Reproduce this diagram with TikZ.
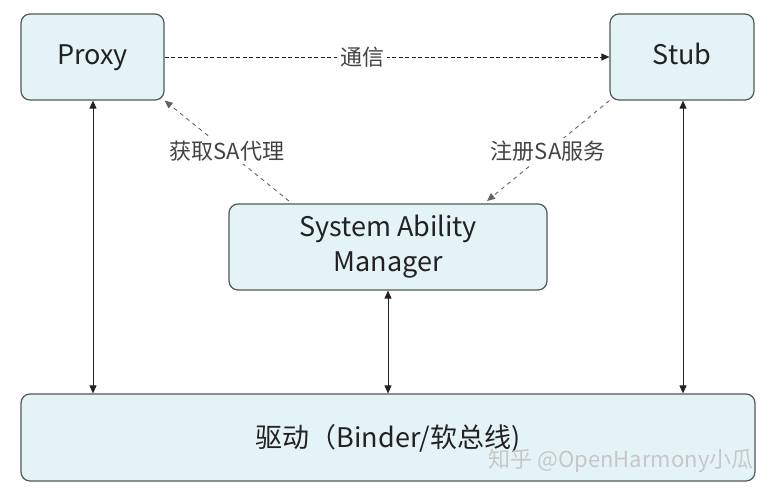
\documentclass[tikz,border=0pt]{standalone}
\usepackage{fontspec}
\setmainfont{Noto Sans CJK SC}
\usetikzlibrary{arrows.meta}
\definecolor{boxfill}{HTML}{E4F4F6}
\definecolor{boxdraw}{HTML}{505858}
\definecolor{txt}{HTML}{222222}
\tikzset{
  box/.style={draw=boxdraw, line width=1.2pt, fill=boxfill, rounded corners=9pt, text=txt, align=center, inner sep=0pt},
  boxtext/.style={font=\fontsize{27}{35}\selectfont},
  oneline/.style={text height=14pt, text depth=0pt},
  lbl/.style={font=\fontsize{22}{24}\selectfont, text=txt!85, inner sep=1pt},
  tip/.style={-{Triangle[length=8pt,width=7pt]}},
  dtip/.style={{Triangle[length=8pt,width=7pt]}-{Triangle[length=8pt,width=7pt]}},
  solidline/.style={draw=txt, line width=0.9pt},
  dashline/.style={draw=txt, line width=0.9pt, dash pattern=on 4pt off 2.5pt},
  diagline/.style={draw=txt!70, line width=0.9pt, dash pattern=on 4pt off 4pt}
}
\begin{document}
\begin{tikzpicture}[x=1pt,y=-1pt]
\useasboundingbox (0,0) rectangle (773,498);
\node[box, boxtext, oneline, minimum width=143pt, minimum height=86pt] (proxy) at (92.5,57) {Proxy};
\node[box, boxtext, oneline, minimum width=144pt, minimum height=86pt] (stub) at (682,57) {Stub};
\node[box, boxtext, minimum width=318pt, minimum height=86pt] (sam) at (388,247) {System Ability\\Manager};
\node[box, boxtext, text height=19pt, text depth=0pt, minimum width=734pt, minimum height=87pt] (drv) at (388,437.5) {驱动（Binder/软总线)};
% connectors
\coordinate (pb) at (93,100);
\coordinate (db1) at (93,394);
\coordinate (st) at (683,100);
\coordinate (db3) at (683,394);
\coordinate (smb) at (388,290);
\coordinate (db2) at (388,394);
\draw[solidline, dtip] (proxy.south -| pb) -- (drv.north -| db1);
\draw[solidline, dtip] (stub.south -| st) -- (drv.north -| db3);
\draw[solidline, dtip] (sam.south -| smb) -- (drv.north -| db2);
\draw[dashline, tip] (proxy.east) -- (stub.west)
  node[pos=0.444, fill=white, lbl, inner sep=3pt] (tx) {通信};
\coordinate (s1) at (289,201);
\coordinate (s2) at (487,201);
\draw[diagline, tip] (s1) -- (proxy.south east)
  node[pos=0.5, fill=white, lbl, inner sep=3pt] (l1) {获取SA代理};
\draw[diagline, tip] (stub.south west) -- (s2)
  node[pos=0.5, fill=white, lbl, inner sep=3pt] (l2) {注册SA服务};
% watermark
\node[font=\fontsize{22}{24}\selectfont, text=black!22, anchor=east] (wm) at (757,461) {知乎 @OpenHarmony小瓜};
\end{tikzpicture}
\end{document}
